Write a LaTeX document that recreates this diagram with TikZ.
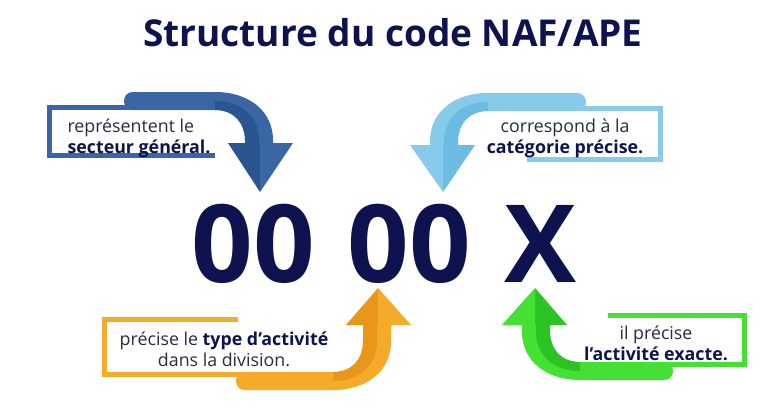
\documentclass[tikz,border=0pt]{standalone}
\usepackage{fontspec}
\setmainfont{Open Sans}
\definecolor{navy}{HTML}{0E1350}
\definecolor{ink}{HTML}{272C42}
\definecolor{secblue}{HTML}{3A67A3}
\definecolor{secblueD}{HTML}{2A5590}
\definecolor{catblue}{HTML}{86CBEA}
\definecolor{catblueD}{HTML}{6CBBE2}
\definecolor{typeorange}{HTML}{F6AA2A}
\definecolor{typeorangeD}{HTML}{E9971A}
\definecolor{exgreen}{HTML}{45E034}
\definecolor{exgreenD}{HTML}{2CC424}

% bent arrow with its frame, tip at (0,0)
% #1 colour, #2 shade, #3 head length, #4 band distance, #5 band end, #6 frame far side, #7 frame near side, #8 end of near side
\newcommand\bentarrow[8]{%
  \draw[#1, line width=5pt] (#8,#7) -- (#6,#7) -- (#6,-#4+15.5) -- (#5+10,-#4+15.5);
  \fill[#1] (#5+8,-#4) -- (-45,-#4) .. controls (-10,-#4) and (13,-#4+20) .. (13,-#4+48)
    -- (13,-#3) -- (-15,-#3) -- (-15,-#4+48) .. controls (-15,-#4+32) and (-25,-#4+18) .. (-45,-#4+18)
    -- (#5+8,-#4+18) .. controls (#5-4,-#4+18) and (#5-4,-#4) .. (#5+8,-#4) -- cycle;
  \fill[#2] (-15,-#3) -- (-1,-#3) -- (-1,-#4+48) .. controls (-1,-#4+28) and (-15,-#4+9) .. (-45,-#4+9)
    -- (-45,-#4+18) .. controls (-25,-#4+18) and (-15,-#4+32) .. (-15,-#4+48) -- cycle;
  \fill[#2] (-32,-#3) -- (0,-#3) -- (0,0) -- cycle;
  \fill[#1] (0,-#3) -- (33,-#3) -- (0,0) -- cycle;
}

\begin{document}
\begin{tikzpicture}[x=1pt, y=-1pt, line join=miter,
    note/.style={text=ink, align=center, font=\fontsize{17.8}{21}\selectfont},
    digits/.style={text=navy, anchor=base, font=\fontsize{108}{108}\selectfont\bfseries}]
  \useasboundingbox[fill=white] (0,0) rectangle (784,410);

  \node[text=navy, font=\fontsize{37}{40}\selectfont\bfseries] (title) at (393,33) {Structure du code NAF/APE};

  \node[digits] (div) at (253,282) {00};
  \node[digits] (grp) at (409,282) {00};
  \node[digits] (sub) at (541,282) {X};

  \coordinate (tipA) at (260,192);
  \coordinate (tipB) at (443,192);
  \coordinate (tipC) at (378,288);
  \coordinate (tipD) at (535,288);

  \begin{scope}[shift={(tipA)}]
    \bentarrow{secblue}{secblueD}{49}{100}{-135}{-210.5}{-36.5}{-45}
  \end{scope}
  \begin{scope}[shift={(tipB)}, xscale=-1]
    \bentarrow{catblue}{catblueD}{47}{99}{-142}{-217.5}{-32.5}{-84}
  \end{scope}
  \begin{scope}[shift={(tipC)}, yscale=-1]
    \bentarrow{typeorange}{typeorangeD}{37}{102}{-141}{-273.5}{-31.5}{-140}
  \end{scope}
  \begin{scope}[shift={(tipD)}, xscale=-1, yscale=-1]
    \bentarrow{exgreen}{exgreenD}{37}{92}{-137}{-209.5}{-27.5}{-73}
  \end{scope}

  \node[note, align=left, anchor=west] (sect) at (64,138)
    {représentent le\\\textbf{\color{navy}secteur général.}};
  \node[note] (cat) at (565,138)
    {correspond à la\\\textbf{\color{navy}catégorie précise.}};
  \node[note] (type) at (224,349)
    {précise le \textbf{\color{navy}type d’activité}\\dans la division.};
  \node[note] (exact) at (656,343)
    {il précise\\\textbf{\color{navy}l’activité exacte.}};
\end{tikzpicture}
\end{document}
